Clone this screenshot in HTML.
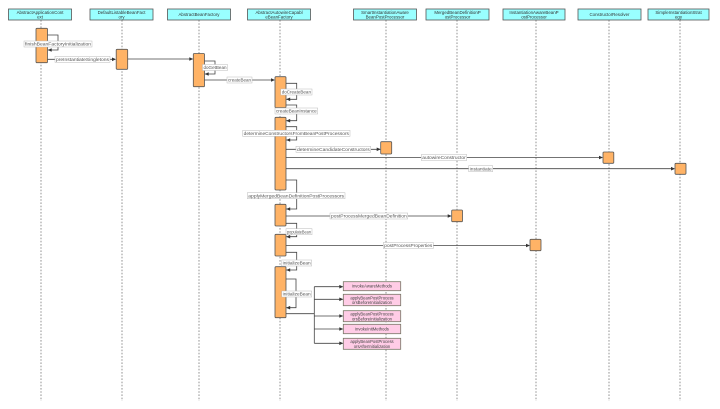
<!DOCTYPE html>
<html><head><meta charset="utf-8"><style>
html,body{margin:0;padding:0;background:#fff;}
svg{display:block;}
text{font-family:"Liberation Sans",sans-serif;}
</style></head><body>
<svg width="720" height="409" viewBox="0 0 720 409" xmlns="http://www.w3.org/2000/svg">
<rect width="720" height="409" fill="#fff"/>
<!-- lifelines -->
<g stroke="#666" stroke-width="0.7" stroke-dasharray="1.6,1.6">
<line x1="41" y1="20" x2="41" y2="401"/>
<line x1="122" y1="20" x2="122" y2="401"/>
<line x1="199" y1="20" x2="199" y2="401"/>
<line x1="280" y1="20" x2="280" y2="401"/>
<line x1="386" y1="20" x2="386" y2="401"/>
<line x1="457" y1="20" x2="457" y2="401"/>
<line x1="536" y1="20" x2="536" y2="401"/>
<line x1="609" y1="20" x2="609" y2="401"/>
<line x1="680" y1="20" x2="680" y2="401"/>
</g>
<!-- headers -->
<g fill="#99ffff" stroke="#555" stroke-width="0.8">
<rect x="8.5" y="9" width="63" height="11"/>
<rect x="90" y="9" width="63" height="11"/>
<rect x="167.5" y="9" width="63" height="11"/>
<rect x="247.5" y="9" width="63" height="11"/>
<rect x="353.5" y="9" width="63" height="11"/>
<rect x="426" y="9" width="63" height="11"/>
<rect x="503" y="9" width="62" height="11"/>
<rect x="578" y="9" width="63" height="11"/>
<rect x="648" y="9" width="61" height="11"/>
</g>
<g font-size="4.4" fill="#333" text-anchor="middle">
<text x="40" y="13.8">AbstractApplicationCont</text><text x="40" y="18.6">ext</text>
<text x="121.5" y="13.8">DefaultListableBeanFact</text><text x="121.5" y="18.6">ory</text>
<text x="199" y="16.2">AbstractBeanFactory</text>
<text x="279" y="13.8">AbstractAutowireCapabl</text><text x="279" y="18.6">eBeanFactory</text>
<text x="385" y="13.8">SmartInstantiationAware</text><text x="385" y="18.6">BeanPostProcessor</text>
<text x="457.5" y="13.8">MergedBeanDefinitionP</text><text x="457.5" y="18.6">ostProcessor</text>
<text x="534" y="13.8">InstantiationAwareBeanP</text><text x="534" y="18.6">ostProcessor</text>
<text x="609.5" y="16.2">ConstructorResolver</text>
<text x="678.5" y="13.8">SimpleInstantiationStrat</text><text x="678.5" y="18.6">egy</text>
</g>
<!-- activations -->
<g fill="#ffb366" stroke="#555" stroke-width="0.8">
<rect x="36" y="28.3" width="11.5" height="34.4" rx="1"/>
<rect x="116.2" y="49.3" width="11.5" height="20" rx="1"/>
<rect x="193.3" y="53.5" width="11.2" height="33.2" rx="1"/>
<rect x="275" y="76.7" width="11" height="31" rx="1"/>
<rect x="275" y="117.3" width="11" height="72.7" rx="1"/>
<rect x="380.7" y="141.7" width="11" height="12.3" rx="1"/>
<rect x="603" y="152" width="10.8" height="11.3" rx="1"/>
<rect x="675" y="163.3" width="11" height="11" rx="1"/>
<rect x="275" y="204.3" width="11" height="21.7" rx="1"/>
<rect x="451.7" y="210" width="10.8" height="11.7" rx="1"/>
<rect x="275" y="234.3" width="11" height="21.7" rx="1"/>
<rect x="530" y="239.3" width="11" height="11.4" rx="1"/>
<rect x="275" y="266.7" width="11" height="51" rx="1"/>
</g>
<!-- pink boxes -->
<g fill="#ffcce6" stroke="#776" stroke-width="0.8">
<rect x="343.3" y="281.7" width="57.4" height="9"/>
<rect x="343.3" y="294.3" width="57.4" height="11.4"/>
<rect x="343.3" y="310.7" width="57.4" height="11"/>
<rect x="343.3" y="324.3" width="57.4" height="9.4"/>
<rect x="343.3" y="338.3" width="57.4" height="11"/>
</g>
<g font-size="4.2" fill="#444" text-anchor="middle">
<text x="372" y="287.7">invokeAwareMethods</text>
<text x="372" y="299.3">applyBeanPostProcess</text><text x="372" y="304.2">orsBeforeInitialization</text>
<text x="372" y="315.5">applyBeanPostProcess</text><text x="372" y="320.4">orsBeforeInitialization</text>
<text x="372" y="330.5">invokeInitMethods</text>
<text x="372" y="343.1">applyBeanPostProcess</text><text x="372" y="348">orsAfterInitialization</text>
</g>
<!-- message lines -->
<g stroke="#444" stroke-width="0.8" fill="none">
<polyline points="47.5,35 58,35 58,50 48,50"/>
<line x1="47.5" y1="59.3" x2="115" y2="59.3"/>
<line x1="127.7" y1="59" x2="192.5" y2="59"/>
<polyline points="204.5,61 215,61 215,74 205,74"/>
<line x1="204.5" y1="80" x2="274" y2="80"/>
<polyline points="286,83.3 296.7,83.3 296.7,99.3 286.5,99.3"/>
<polyline points="286,105 296.7,105 296.7,120.7 286.5,120.7"/>
<polyline points="286,126.7 296.7,126.7 296.7,140 286.5,140"/>
<line x1="286" y1="149.3" x2="380" y2="149.3"/>
<line x1="286" y1="157.5" x2="602" y2="157.5"/>
<line x1="286" y1="168.7" x2="674" y2="168.7"/>
<polyline points="286,180 296.7,180 296.7,209 286.5,209"/>
<line x1="286" y1="216" x2="451" y2="216"/>
<polyline points="286,223.3 296.7,223.3 296.7,236.7 286.5,236.7"/>
<line x1="286" y1="245.5" x2="529" y2="245.5"/>
<polyline points="286,252.3 296.7,252.3 296.7,270 286.5,270"/>
<polyline points="286,279 296,279 296,307.7 286.5,307.7"/>
<line x1="286" y1="313.7" x2="314.3" y2="313.7"/>
<line x1="314.3" y1="286.7" x2="314.3" y2="343.3"/>
<line x1="314.3" y1="286.7" x2="342.5" y2="286.7"/>
<line x1="314.3" y1="299.3" x2="342.5" y2="299.3"/>
<line x1="314.3" y1="316" x2="342.5" y2="316"/>
<line x1="314.3" y1="329" x2="342.5" y2="329"/>
<line x1="314.3" y1="343.3" x2="342.5" y2="343.3"/>
</g>
<!-- arrowheads -->
<g fill="#333">
<polygon points="47.7,50 51.7,48.2 51.7,51.8"/>
<polygon points="116,59.3 112,57.5 112,61.1"/>
<polygon points="193.3,59 189.3,57.2 189.3,60.8"/>
<polygon points="204.7,74 208.7,72.2 208.7,75.8"/>
<polygon points="275,80 271,78.2 271,81.8"/>
<polygon points="286.2,99.3 290.2,97.5 290.2,101.1"/>
<polygon points="286.2,120.7 290.2,118.9 290.2,122.5"/>
<polygon points="286.2,140 290.2,138.2 290.2,141.8"/>
<polygon points="380.7,149.3 376.7,147.5 376.7,151.1"/>
<polygon points="603,157.5 599,155.7 599,159.3"/>
<polygon points="675,168.7 671,166.9 671,170.5"/>
<polygon points="286.2,209 290.2,207.2 290.2,210.8"/>
<polygon points="451.7,216 447.7,214.2 447.7,217.8"/>
<polygon points="286.2,236.7 290.2,234.9 290.2,238.5"/>
<polygon points="530,245.5 526,243.7 526,247.3"/>
<polygon points="286.2,270 290.2,268.2 290.2,271.8"/>
<polygon points="286.2,307.7 290.2,305.9 290.2,309.5"/>
<polygon points="343.3,286.7 339.3,284.9 339.3,288.5"/>
<polygon points="343.3,299.3 339.3,297.5 339.3,301.1"/>
<polygon points="343.3,316 339.3,314.2 339.3,317.8"/>
<polygon points="343.3,329 339.3,327.2 339.3,330.8"/>
<polygon points="343.3,343.3 339.3,341.5 339.3,345.1"/>
</g>
<!-- labels -->
<g fill="#fff" stroke="#bbb" stroke-width="0.5">
<rect x="24" y="41" width="68" height="6"/>
<rect x="55" y="56.3" width="55" height="6"/>
<rect x="202.5" y="64.5" width="25" height="6"/>
<rect x="227" y="77" width="25" height="6"/>
<rect x="280.7" y="89" width="31.3" height="6"/>
<rect x="275" y="108" width="42.7" height="6"/>
<rect x="242.7" y="130.3" width="107.3" height="6"/>
<rect x="296" y="146.3" width="74.7" height="6"/>
<rect x="421.3" y="154.5" width="45.4" height="6"/>
<rect x="468.7" y="165.7" width="24" height="6"/>
<rect x="247.3" y="192.7" width="97.7" height="6"/>
<rect x="330" y="213" width="77.7" height="6"/>
<rect x="286" y="228.7" width="26" height="6"/>
<rect x="383.3" y="242.5" width="50" height="6"/>
<rect x="281.7" y="260" width="30" height="6"/>
<rect x="281.7" y="291" width="30" height="6"/>
</g>
<g font-size="4.6" fill="#555" lengthAdjust="spacingAndGlyphs">
<text x="25" y="45.6" textLength="66" lengthAdjust="spacingAndGlyphs">finishBeanFactoryInitialization</text>
<text x="56" y="60.9" textLength="53" lengthAdjust="spacingAndGlyphs">preInstantiateSingletons</text>
<text x="203.5" y="69.1" textLength="23" lengthAdjust="spacingAndGlyphs">doGetBean</text>
<text x="228" y="81.6" textLength="23" lengthAdjust="spacingAndGlyphs">createBean</text>
<text x="281.7" y="93.6" textLength="29.3" lengthAdjust="spacingAndGlyphs">doCreateBean</text>
<text x="276" y="112.6" textLength="40.7" lengthAdjust="spacingAndGlyphs">createBeanInstance</text>
<text x="243.7" y="134.9" textLength="105.3" lengthAdjust="spacingAndGlyphs">determineConstructorsFromBeanPostProcessors</text>
<text x="297" y="150.9" textLength="72.7" lengthAdjust="spacingAndGlyphs">determineCandidateConstructors</text>
<text x="422.3" y="159.1" textLength="43.4" lengthAdjust="spacingAndGlyphs">autowireConstructor</text>
<text x="469.7" y="170.3" textLength="22" lengthAdjust="spacingAndGlyphs">instantiate</text>
<text x="248.3" y="197.3" textLength="95.7" lengthAdjust="spacingAndGlyphs">applyMergedBeanDefinitionPostProcessors</text>
<text x="331" y="217.6" textLength="75.7" lengthAdjust="spacingAndGlyphs">postProcessMergedBeanDefinition</text>
<text x="287" y="233.3" textLength="24" lengthAdjust="spacingAndGlyphs">populateBean</text>
<text x="384.3" y="247.1" textLength="48" lengthAdjust="spacingAndGlyphs">postProcessProperties</text>
<text x="282.7" y="264.6" textLength="28" lengthAdjust="spacingAndGlyphs">initializeBean</text>
<text x="282.7" y="295.6" textLength="28" lengthAdjust="spacingAndGlyphs">initializeBean</text>
</g>
</svg>
</body></html>
